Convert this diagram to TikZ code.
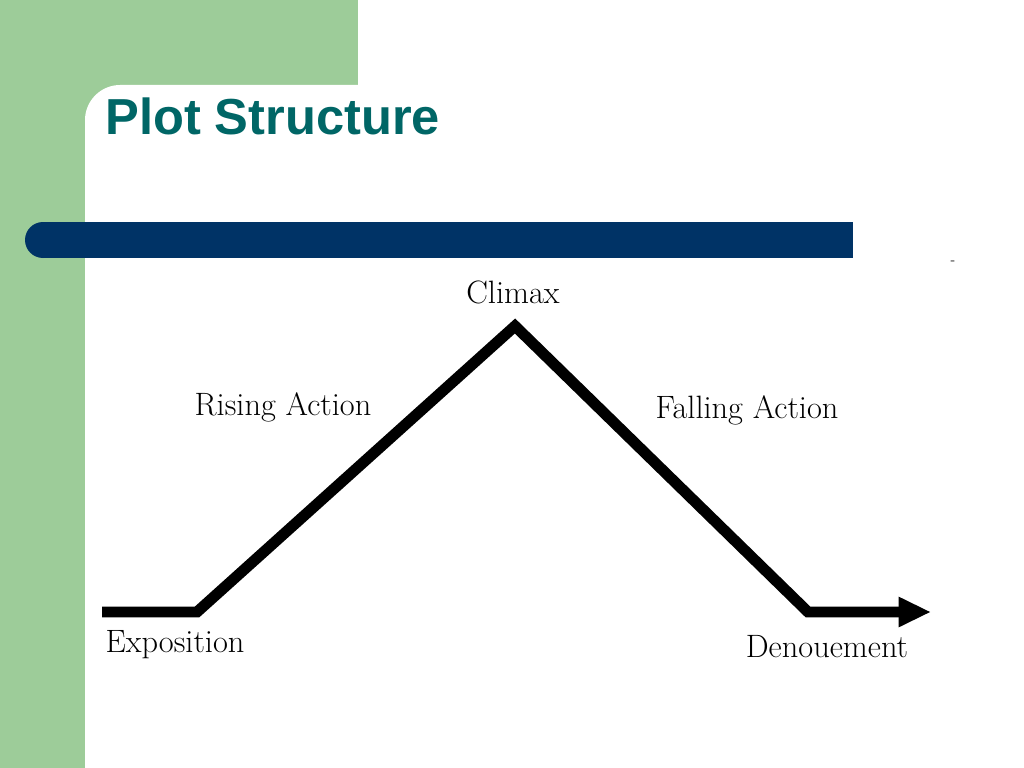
\documentclass[tikz,border=0pt]{standalone}
\usepackage{fontspec}
\setsansfont{Liberation Sans}
\usepackage{tikz}
\usetikzlibrary{arrows.meta}
\definecolor{slidegreen}{RGB}{157,204,153}
\definecolor{titleteal}{RGB}{0,102,102}
\definecolor{barblue}{RGB}{0,51,102}
\tikzset{
    stagelabel/.style={
        inner sep=0pt, text=black,
        font=\fontsize{23}{26}\selectfont
    }
}

\begin{document}
\begin{tikzpicture}[
        x=0.025cm, y=-0.025cm,
        plotline/.style={
            line width=7.8pt, line join=miter, black
        }
      ]

    \useasboundingbox (0,0) rectangle (1024,768);
    % slide background
    \fill[slidegreen] (0,0) rectangle (1024,768);
    \fill[white] (85,768) [rounded corners=25] -- (85,85) [sharp corners] -- (358,85)
        -- (358,0) -- (1024,0) -- (1024,768) -- cycle;
    \fill[barblue] (43,222) rectangle (853,258);
    \fill[barblue] (43,240) circle (18);

    \node[anchor=base west, inner sep=0pt, text=titleteal,
          font=\sffamily\bfseries\fontsize{36}{40}\selectfont] (title) at (105,135) {Plot Structure};
    \node[inner sep=0pt, font=\fontsize{10}{12}\selectfont] (dash) at (953,263) {-};

    % the plot
    \coordinate (start) at (102,612);
    \coordinate (rise)  at (197,612);
    \coordinate (peak)  at (515,326);
    \coordinate (fall)  at (808,612);
    \coordinate (end)   at (931,612);
    \draw[plotline, -{Triangle[length=23pt,width=20pt]}]
        (start) -- (rise) -- (peak) -- (fall) -- (end);

    \node[stagelabel] (climax)  at (513,292) {Climax};
    \node[stagelabel] (rising)  at (283,407) {Rising Action};
    \node[stagelabel] (falling) at (747,410) {Falling Action};
    \node[stagelabel] (expo)    at (175,645) {Exposition};
    \node[stagelabel] (denoue)  at (827,647) {Denouement};

\end{tikzpicture}
\end{document}
